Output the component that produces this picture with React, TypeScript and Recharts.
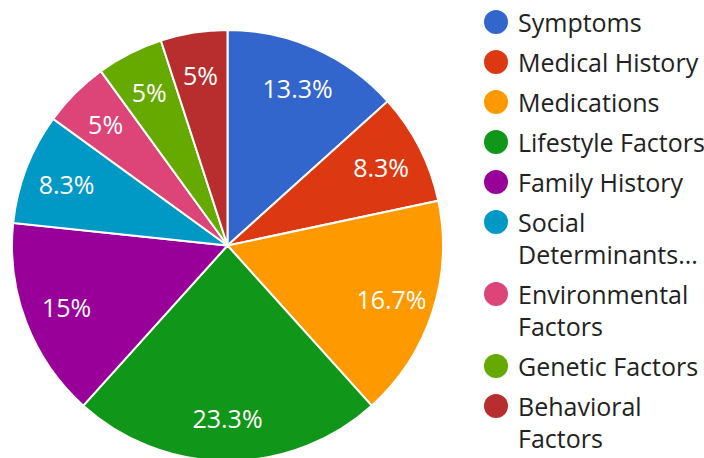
import { PieChart, Pie, Cell, Legend } from "recharts";

const categories = [
  "Symptoms",
  "Medical History",
  "Medications",
  "Lifestyle Factors",
  "Family History",
  "Social Determinants of Health",
  "Environmental Factors",
  "Genetic Factors",
  "Behavioral Factors",
];

// counts (out of 60)
const counts = [8, 5, 10, 14, 9, 5, 3, 3, 3];

const colors = [
  "#3366cc",
  "#dc3912",
  "#ff9900",
  "#109618",
  "#990099",
  "#0099c6",
  "#dd4477",
  "#66aa00",
  "#b82e2e",
];

const chartData = categories.map((name, i) => ({ name, value: counts[i] }));

const FONT = '"Open Sans", sans-serif';
const LEGEND_FONT_SIZE = 25;
const LEGEND_TEXT_WIDTH = 190;

const RADIAN = Math.PI / 180;

const measureCtx =
  typeof document !== "undefined"
    ? document.createElement("canvas").getContext("2d")
    : null;

// wrap legend text into lines, clamp to two lines with "..."
function wrapLabel(text: string, maxWidth: number, maxLines: number): string[] {
  if (!measureCtx) return [text];
  measureCtx.font = `${LEGEND_FONT_SIZE}px "Open Sans"`;
  const w = (s: string) => measureCtx.measureText(s).width;
  const words = text.split(" ");
  const lines: string[] = [];
  let cur = "";
  for (const word of words) {
    const next = cur ? cur + " " + word : word;
    if (!cur || w(next) <= maxWidth) cur = next;
    else {
      lines.push(cur);
      cur = word;
    }
  }
  if (cur) lines.push(cur);
  if (lines.length <= maxLines) return lines;
  const kept = lines.slice(0, maxLines);
  const parts = kept[maxLines - 1].split(" ");
  while (parts.length > 1 && w(parts.join(" ") + "...") > maxWidth) parts.pop();
  kept[maxLines - 1] = parts.join(" ") + "...";
  return kept;
}

const renderLabel = (props: any) => {
  const { cx, cy, midAngle, outerRadius, percent } = props;
  const r = outerRadius * 0.8;
  const x = cx + r * Math.cos(-midAngle * RADIAN);
  const y = cy + r * Math.sin(-midAngle * RADIAN);
  const pct = Math.round(percent * 1000) / 10;
  return (
    <text
      x={x}
      y={y}
      fill="#fff"
      textAnchor="middle"
      dominantBaseline="central"
      fontFamily={FONT}
      fontSize={25}
    >
      {`${pct}%`}
    </text>
  );
};

const renderLegend = (props: any) => {
  // keep the data order, not alphabetical
  const payload = [...(props.payload || [])].sort(
    (a: any, b: any) =>
      categories.indexOf(String(a.value)) - categories.indexOf(String(b.value))
  );
  return (
    <div style={{ fontFamily: FONT }}>
      {payload.map((entry: any, i: number) => {
        const lines = wrapLabel(String(entry.value), LEGEND_TEXT_WIDTH, 2);
        return (
          <div
            key={i}
            style={{ display: "flex", alignItems: "flex-start", marginBottom: 8 }}
          >
            <svg width={24} height={32} style={{ flex: "none" }}>
              <circle cx={12} cy={16} r={12} fill={entry.color} />
            </svg>
            <div
              style={{
                marginLeft: 10,
                fontSize: LEGEND_FONT_SIZE,
                lineHeight: "32px",
                color: "#222",
                whiteSpace: "nowrap",
              }}
            >
              {lines.map((l, j) => (
                <div key={j}>{l}</div>
              ))}
            </div>
          </div>
        );
      })}
    </div>
  );
};

export default function App() {
  return (
    <div
      style={{
        position: "absolute",
        left: 0,
        top: 0,
        width: 704,
        height: 458,
        overflow: "hidden",
        background: "#fff",
      }}
    >
      <PieChart
        width={704}
        height={458}
        margin={{ top: 0, right: 0, bottom: 0, left: 0 }}
      >
        <Pie
          data={chartData}
          dataKey="value"
          nameKey="name"
          cx={227.5}
          cy={245.5}
          outerRadius={215.5}
          startAngle={90}
          endAngle={-270}
          stroke="#fff"
          strokeWidth={2}
          label={renderLabel}
          labelLine={false}
          isAnimationActive={false}
        >
          {chartData.map((_, i) => (
            <Cell key={i} fill={colors[i]} />
          ))}
        </Pie>
        <Legend
          layout="vertical"
          align="right"
          verticalAlign="top"
          content={renderLegend}
          wrapperStyle={{ left: 484, top: 6, width: 220, right: "auto" }}
        />
      </PieChart>
    </div>
  );
}
